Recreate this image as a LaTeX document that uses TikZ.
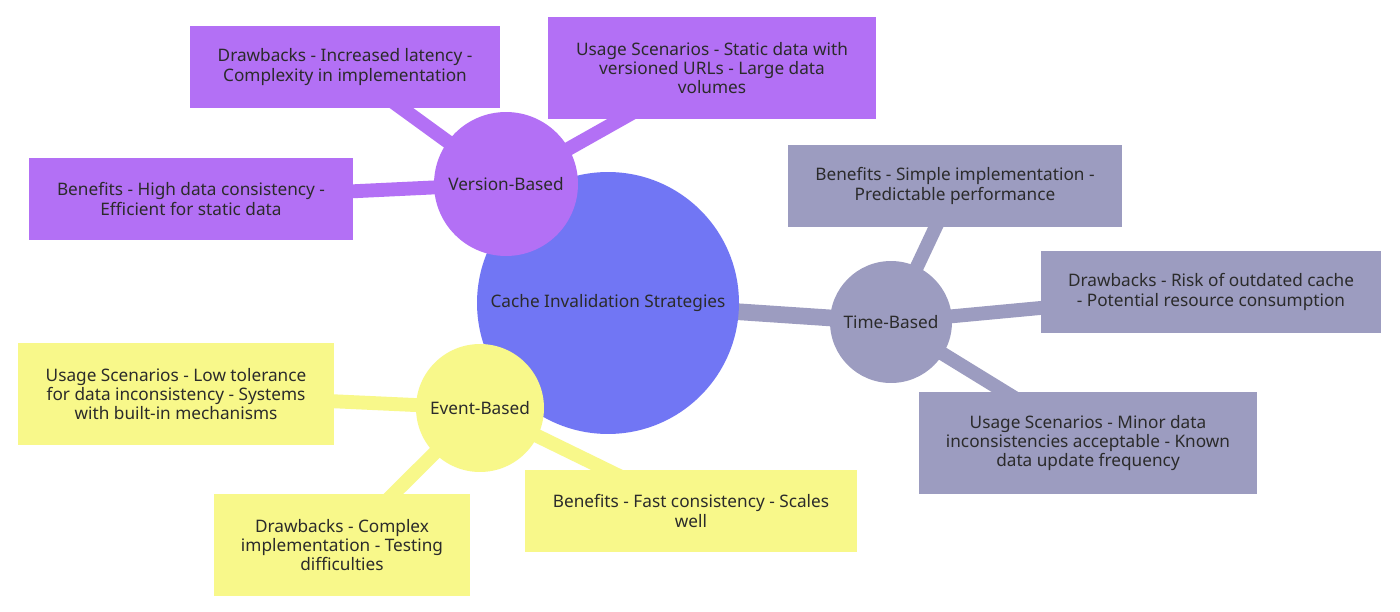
\documentclass[tikz,border=0pt]{standalone}
\usepackage{fontspec}
\setmainfont{Noto Sans}
\usepackage{xcolor}
\usepackage{tikz}
\usetikzlibrary{shapes,positioning,calc}

\definecolor{rootblue}{HTML}{7176F4}
\definecolor{verpurple}{HTML}{B370F5}
\definecolor{timegray}{HTML}{9C9CC0}
\definecolor{evtyellow}{HTML}{F8F88A}
\definecolor{txtdark}{HTML}{2B2B2B}

\tikzset{
    leaf/.style={rectangle, inner sep=0pt, align=center, text=txtdark, font=\fontsize{9.8}{10.9}\selectfont},
    hub/.style={circle, inner sep=0pt, align=center, text=txtdark, font=\fontsize{9.8}{10.9}\selectfont},
    twig/.style={line width=7.9pt},
    trunk/.style={line width=9.5pt}
}

\begin{document}
\begin{tikzpicture}[x=0.02cm, y=-0.02cm]
            % canvas
            \fill[white] (0,0) rectangle (1400,612);

            % hub positions (edges drawn first, nodes on top)
            \coordinate (cRoot) at (608,303);
            \coordinate (cVer) at (506,184);
            \coordinate (cTime) at (891,322);
            \coordinate (cEvt) at (480,408);

            % Trunks
            \draw[trunk, verpurple] (cRoot) -- (cVer);
            \draw[trunk, timegray] (cRoot) -- (cTime);
            \draw[trunk, evtyellow] (cRoot) -- (cEvt);

            % Version branch edges
            \draw[twig, verpurple] (cVer) -- (345,67);
            \draw[twig, verpurple] (cVer) -- (712,68);
            \draw[twig, verpurple] (cVer) -- (191,199);

            % Time branch edges
            \draw[twig, timegray] (cTime) -- (955,186);
            \draw[twig, timegray] (cTime) -- (1211,292);
            \draw[twig, timegray] (cTime) -- (1088,443);

            % Event branch edges
            \draw[twig, evtyellow] (cEvt) -- (176,394);
            \draw[twig, evtyellow] (cEvt) -- (342,545);
            \draw[twig, evtyellow] (cEvt) -- (691,511);

            % Root
            \node[hub, fill=rootblue, minimum size=5.24cm] (root) at (cRoot) {Cache Invalidation Strategies};

            % Hubs
            \node[hub, fill=verpurple, minimum size=2.88cm] (ver) at (cVer) {Version-Based};
            \node[hub, fill=timegray, minimum size=2.44cm] (time) at (cTime) {Time-Based};
            \node[hub, fill=evtyellow, minimum size=2.56cm] (evt) at (cEvt) {Event-Based};

            % Version leaves
            \node[leaf, fill=verpurple, minimum width=6.2cm, minimum height=1.66cm] (verDraw) at (345,67) {Drawbacks - Increased latency -\\Complexity in implementation};
            \node[leaf, fill=verpurple, minimum width=6.56cm, minimum height=2.04cm] (verUse) at (712,68) {Usage Scenarios - Static data with\\versioned URLs - Large data\\volumes};
            \node[leaf, fill=verpurple, minimum width=6.48cm, minimum height=1.66cm] (verBen) at (191,199) {Benefits - High data consistency -\\Efficient for static data};

            % Time leaves
            \node[leaf, fill=timegray, minimum width=6.68cm, minimum height=1.66cm] (timeBen) at (955,186) {Benefits - Simple implementation -\\Predictable performance};
            \node[leaf, fill=timegray, minimum width=6.82cm, minimum height=1.66cm] (timeDraw) at (1211,292) {Drawbacks - Risk of outdated cache\\- Potential resource consumption};
            \node[leaf, fill=timegray, minimum width=6.78cm, minimum height=2.04cm] (timeUse) at (1088,443) {Usage Scenarios - Minor data\\inconsistencies acceptable - Known\\data update frequency};

            % Event leaves
            \node[leaf, fill=evtyellow, minimum width=6.32cm, minimum height=2.06cm] (evtUse) at (176,394) {Usage Scenarios - Low tolerance\\for data inconsistency - Systems\\with built-in mechanisms};
            \node[leaf, fill=evtyellow, minimum width=5.14cm, minimum height=2.06cm] (evtDraw) at (342,545) {Drawbacks - Complex\\implementation - Testing\\difficulties};
            \node[leaf, fill=evtyellow, minimum width=6.64cm, minimum height=1.66cm] (evtBen) at (691,511) {Benefits - Fast consistency - Scales\\well};
        \end{tikzpicture}
\end{document}
